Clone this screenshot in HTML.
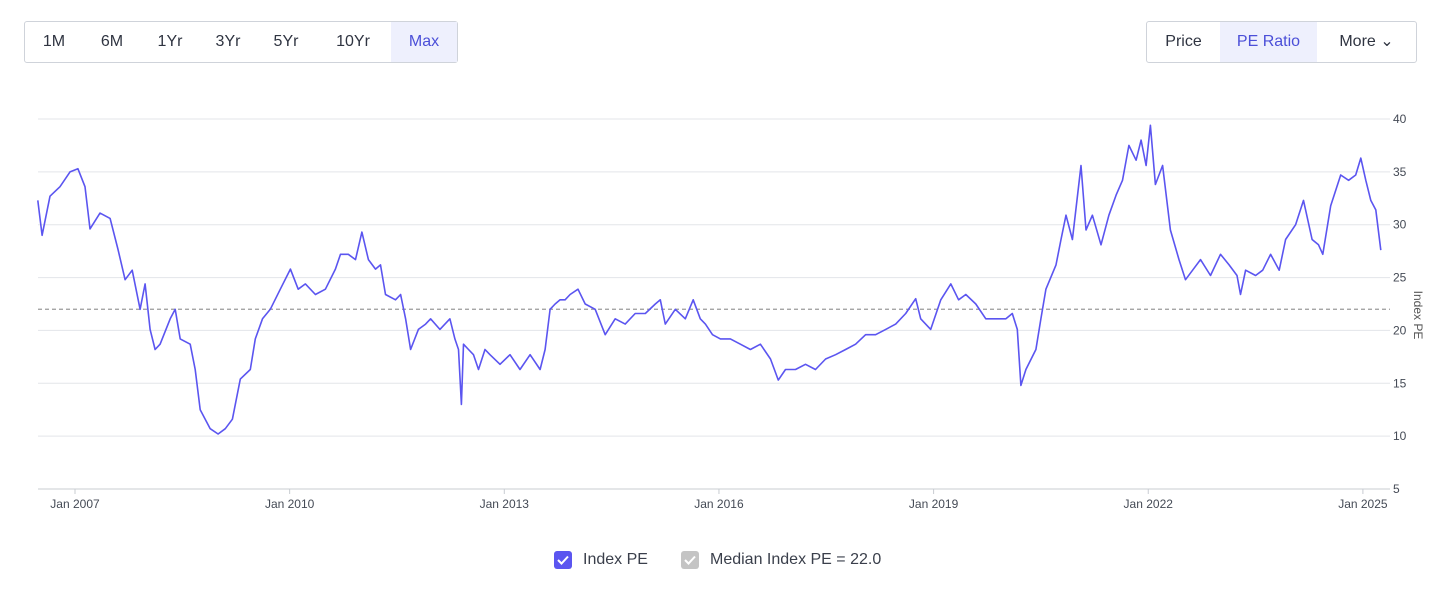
<!DOCTYPE html>
<html><head><meta charset="utf-8"><style>
body{margin:0;width:1456px;height:601px;background:#fff;font-family:"Liberation Sans",sans-serif;position:relative;overflow:hidden}
.grp{position:absolute;top:21px;height:42px;border:1px solid #cfd3da;border-radius:3px;display:flex;box-sizing:border-box}
.grp div{height:40px;line-height:40px;font-size:16px;color:#2f3441;text-align:center}
.act{background:#eef0fd;color:#4b4fd8!important}
.leg{position:absolute;top:551px;font-size:16px;color:#3a3f4b;display:flex;align-items:center}
.cb{width:18px;height:18px;border-radius:3px;margin-right:11px;display:flex;align-items:center;justify-content:center}
</style></head><body>
<div class="grp" style="left:24px;width:434px">
<div style="width:58px">1M</div>
<div style="width:58px">6M</div>
<div style="width:58px">1Yr</div>
<div style="width:58px">3Yr</div>
<div style="width:58px">5Yr</div>
<div style="width:76px">10Yr</div>
<div class="act" style="width:66px">Max</div>
</div>
<div class="grp" style="left:1146px;width:271px">
<div style="width:73px">Price</div>
<div class="act" style="width:97px">PE Ratio</div>
<div style="width:99px">More &#8964;</div>
</div>
<svg id="chart" width="1456" height="601" style="position:absolute;left:0;top:0"></svg>
<div class="leg" style="left:554px"><div class="cb" style="background:#5b55f0"><svg width="12" height="10"><path d="M1 5 L4.5 8.5 L11 1.5" stroke="#fff" stroke-width="2" fill="none"/></svg></div>Index PE</div>
<div class="leg" style="left:681px"><div class="cb" style="background:#c4c4c4"><svg width="12" height="10"><path d="M1 5 L4.5 8.5 L11 1.5" stroke="#fff" stroke-width="2" fill="none"/></svg></div>Median Index PE = 22.0</div>
<script>
const yTicks=[5,10,15,20,25,30,35,40];
const xTickYears=[2007,2010,2013,2016,2019,2022,2025];
const xTickLabels=["Jan 2007","Jan 2010","Jan 2013","Jan 2016","Jan 2019","Jan 2022","Jan 2025"];
const medianPE=22.0;
const dates=[2006.48,2006.54,2006.65,2006.79,2006.93,2007.04,2007.14,2007.21,2007.35,2007.49,2007.60,2007.70,2007.80,2007.91,2007.98,2008.05,2008.12,2008.19,2008.33,2008.40,2008.47,2008.61,2008.68,2008.75,2008.89,2009.00,2009.10,2009.20,2009.31,2009.45,2009.52,2009.62,2009.73,2009.87,2010.01,2010.12,2010.22,2010.36,2010.50,2010.64,2010.71,2010.82,2010.92,2011.01,2011.10,2011.20,2011.27,2011.34,2011.48,2011.55,2011.62,2011.69,2011.80,2011.90,2011.97,2012.10,2012.24,2012.31,2012.36,2012.40,2012.43,2012.50,2012.57,2012.64,2012.73,2012.80,2012.94,2013.08,2013.22,2013.36,2013.50,2013.57,2013.64,2013.71,2013.78,2013.85,2013.92,2014.03,2014.13,2014.27,2014.41,2014.55,2014.69,2014.83,2014.97,2015.11,2015.18,2015.25,2015.39,2015.53,2015.64,2015.74,2015.81,2015.91,2016.02,2016.16,2016.30,2016.44,2016.58,2016.72,2016.83,2016.93,2017.07,2017.21,2017.35,2017.49,2017.63,2017.77,2017.91,2018.05,2018.19,2018.33,2018.47,2018.61,2018.75,2018.82,2018.96,2019.10,2019.24,2019.35,2019.45,2019.59,2019.73,2019.87,2020.01,2020.10,2020.17,2020.22,2020.29,2020.43,2020.50,2020.57,2020.71,2020.78,2020.85,2020.94,2021.06,2021.13,2021.22,2021.34,2021.45,2021.55,2021.64,2021.73,2021.83,2021.90,2021.97,2022.03,2022.10,2022.20,2022.31,2022.43,2022.52,2022.62,2022.73,2022.87,2023.01,2023.13,2023.24,2023.29,2023.36,2023.50,2023.60,2023.71,2023.83,2023.92,2024.06,2024.17,2024.29,2024.38,2024.44,2024.55,2024.69,2024.80,2024.90,2024.97,2025.04,2025.11,2025.18,2025.25];
const peValues=[32.3,29.0,32.7,33.6,35.0,35.3,33.6,29.6,31.1,30.6,27.7,24.8,25.7,22.0,24.4,20.1,18.2,18.7,21.1,22.0,19.2,18.7,16.3,12.5,10.7,10.2,10.7,11.6,15.4,16.3,19.2,21.1,22.0,23.9,25.8,23.9,24.4,23.4,23.9,25.8,27.2,27.2,26.7,29.3,26.7,25.8,26.2,23.4,22.9,23.4,21.1,18.2,20.1,20.6,21.1,20.1,21.1,19.2,18.2,13.0,18.7,18.2,17.7,16.3,18.2,17.7,16.8,17.7,16.3,17.7,16.3,18.2,22.0,22.5,22.9,22.9,23.4,23.9,22.5,22.0,19.6,21.1,20.6,21.6,21.6,22.5,22.9,20.6,22.0,21.1,22.9,21.1,20.6,19.6,19.2,19.2,18.7,18.2,18.7,17.3,15.3,16.3,16.3,16.8,16.3,17.3,17.7,18.2,18.7,19.6,19.6,20.1,20.6,21.6,23.0,21.1,20.1,22.9,24.4,22.9,23.4,22.5,21.1,21.1,21.1,21.6,20.1,14.8,16.3,18.2,21.1,23.9,26.2,28.6,30.9,28.6,35.6,29.5,30.9,28.1,30.9,32.8,34.2,37.5,36.1,38.0,35.6,39.4,33.8,35.6,29.5,26.7,24.8,25.7,26.7,25.2,27.2,26.2,25.2,23.4,25.7,25.2,25.7,27.2,25.7,28.6,30.0,32.3,28.6,28.1,27.2,31.8,34.7,34.2,34.7,36.3,34.2,32.3,31.4,27.6];
const NS="http://www.w3.org/2000/svg";
const svg=document.getElementById('chart');
const X0=38,X1=1390,Y0=489,Y1=119;
const xs=d=>75+(d-2007)*71.55;
const ys=v=>Y0-(v-5)*(Y0-Y1)/35;
function mk(t,a){const e=document.createElementNS(NS,t);for(const k in a)e.setAttribute(k,a[k]);svg.appendChild(e);return e;}
yTicks.forEach(v=>{
 const l=mk('line',{x1:X0,x2:X1,y1:ys(v),y2:ys(v),stroke:v===5?'#c8ccd2':'#e3e5e9','stroke-width':1});
 
 
 const t=mk('text',{x:1393,y:ys(v)+4,'font-size':12,fill:'#444a55','font-family':'Liberation Sans, sans-serif'});
 t.textContent=v;
 
 
});
xTickYears.forEach((yr,i)=>{
 const l=mk('line',{x1:xs(yr),x2:xs(yr),y1:Y0,y2:Y0+5,stroke:'#c8ccd2'});
 
 
 const t=mk('text',{x:xs(yr),y:Y0+19,'font-size':12,fill:'#444a55','text-anchor':'middle','font-family':'Liberation Sans, sans-serif'});
 t.textContent=xTickLabels[i];
 
 
});
const med=mk('line',{x1:X0,x2:X1,y1:ys(medianPE),y2:ys(medianPE),stroke:'#9a9a9a','stroke-dasharray':'4,3','stroke-width':1.2});


const pts=dates.map((d,i)=>xs(d).toFixed(1)+','+ys(peValues[i]).toFixed(1)).join(' ');
const pl=mk('polyline',{points:pts,fill:'none',stroke:'#5b55f0','stroke-width':1.6,'stroke-linejoin':'round'});


const at=mk('text',{x:1414,y:315,'font-size':12,fill:'#555','text-anchor':'middle',transform:'rotate(90 1414 315)','font-family':'Liberation Sans, sans-serif'});
at.textContent='Index PE';


</script>
</body></html>
